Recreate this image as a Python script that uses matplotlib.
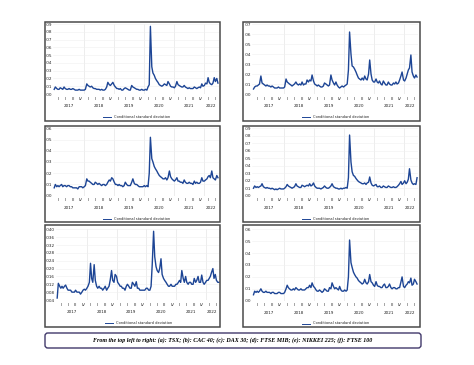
import numpy as np
import pandas as pd
import matplotlib
matplotlib.use('Agg')
import matplotlib.pyplot as plt
from matplotlib.patches import Rectangle, FancyBboxPatch
from matplotlib.lines import Line2D
from matplotlib.ticker import FuncFormatter

W, H = 474, 365

# semi-monthly observation dates (1st and 15th of each month)
dates = pd.date_range('2017-01-01', '2022-06-15', freq='SMS')
x = np.asarray(dates.year + (dates.dayofyear - 1) / 365.25)

tsx = [.006,.009,.007,.006,.006,.008,.007,.006,.009,.007,.006,.006,.007,.006,.006,.007,.006,.005,.005,.005,.006,.005,.005,.005,
       .005,.006,.013,.011,.010,.009,.010,.008,.007,.007,.006,.006,.006,.005,.006,.005,.005,.006,.009,.015,.012,.011,.013,.015,
       .011,.009,.007,.007,.006,.007,.005,.005,.007,.008,.007,.006,.005,.005,.011,.009,.008,.007,.006,.006,.005,.005,.006,.005,
       .005,.006,.005,.009,.012,.087,.035,.027,.024,.020,.017,.015,.012,.011,.010,.011,.013,.012,.011,.016,.013,.010,.009,.009,
       .008,.010,.016,.012,.011,.010,.009,.009,.011,.009,.008,.007,.008,.007,.007,.007,.009,.008,.007,.008,.009,.008,.013,.010,
       .011,.014,.013,.021,.015,.013,.012,.014,.021,.016,.020,.014]

cac40 = [.005,.007,.008,.008,.009,.010,.018,.011,.010,.009,.008,.009,.008,.008,.007,.008,.007,.006,.006,.006,.007,.006,.006,.006,
         .006,.007,.015,.012,.011,.010,.009,.008,.009,.010,.012,.010,.009,.010,.009,.012,.009,.010,.010,.014,.012,.014,.013,.019,
         .013,.010,.009,.008,.009,.008,.007,.007,.008,.011,.010,.009,.008,.009,.019,.014,.011,.009,.012,.009,.007,.006,.007,.008,
         .007,.008,.009,.010,.024,.062,.040,.028,.027,.025,.022,.019,.016,.015,.014,.016,.014,.018,.015,.014,.020,.034,.020,.014,
         .012,.012,.015,.012,.011,.013,.010,.009,.013,.011,.009,.009,.012,.010,.009,.009,.011,.010,.012,.010,.011,.014,.018,.022,
         .014,.013,.016,.020,.024,.026,.039,.022,.018,.016,.019,.017]

dax30 = [.007,.010,.008,.009,.008,.009,.010,.008,.009,.009,.008,.009,.009,.008,.008,.007,.007,.007,.007,.006,.008,.008,.008,.007,
         .008,.009,.015,.013,.013,.012,.011,.010,.010,.012,.011,.010,.011,.010,.009,.010,.010,.009,.010,.012,.014,.013,.016,.015,
         .012,.010,.010,.009,.010,.009,.009,.008,.009,.012,.010,.009,.009,.009,.012,.015,.011,.010,.010,.009,.008,.008,.008,.008,
         .009,.008,.009,.008,.020,.052,.033,.030,.026,.024,.022,.020,.018,.017,.016,.015,.015,.016,.014,.016,.022,.017,.015,.014,
         .013,.014,.016,.013,.013,.012,.012,.011,.014,.012,.011,.011,.012,.011,.011,.010,.013,.011,.012,.011,.011,.012,.016,.013,
         .013,.014,.015,.017,.018,.016,.022,.016,.015,.014,.018,.016]

ftse_mib = [.010,.013,.011,.012,.011,.012,.013,.016,.012,.011,.010,.011,.010,.010,.009,.010,.009,.008,.009,.008,.009,.010,.009,.009,
            .009,.010,.012,.015,.013,.012,.011,.010,.011,.012,.016,.013,.012,.011,.011,.014,.013,.012,.013,.014,.013,.016,.013,.014,
            .017,.013,.011,.010,.010,.010,.009,.010,.011,.013,.011,.010,.010,.011,.013,.016,.012,.011,.010,.010,.009,.009,.010,.009,
            .010,.010,.011,.010,.024,.081,.045,.032,.027,.026,.023,.021,.019,.018,.017,.016,.016,.017,.015,.017,.018,.025,.017,.014,
            .013,.014,.015,.012,.012,.013,.011,.011,.013,.012,.011,.011,.013,.012,.011,.011,.012,.011,.011,.012,.014,.016,.019,.015,
            .017,.020,.016,.018,.022,.036,.021,.017,.015,.016,.015,.024]

nikkei225 = [.005,.0125,.011,.010,.011,.010,.011,.0116,.010,.009,.009,.009,.008,.008,.008,.009,.008,.008,.008,.007,.008,.009,.0095,.009,
             .010,.011,.013,.0227,.015,.013,.022,.014,.011,.010,.011,.010,.010,.009,.010,.011,.009,.010,.011,.014,.019,.014,.013,.017,
             .016,.013,.012,.011,.011,.010,.010,.009,.011,.012,.011,.010,.010,.013,.012,.011,.0133,.010,.010,.009,.009,.009,.009,.009,
             .010,.010,.009,.009,.011,.022,.039,.026,.021,.019,.018,.020,.025,.017,.015,.014,.013,.012,.011,.011,.012,.011,.011,.011,
             .012,.012,.013,.014,.013,.019,.015,.013,.016,.013,.012,.013,.013,.012,.012,.015,.013,.014,.016,.013,.013,.0167,.013,.012,
             .013,.014,.014,.015,.016,.018,.020,.015,.017,.014,.013,.013]

ftse100 = [.005,.008,.007,.008,.007,.008,.010,.008,.007,.007,.008,.007,.007,.007,.006,.007,.007,.006,.006,.006,.007,.007,.006,.006,
           .006,.007,.010,.013,.011,.010,.009,.009,.010,.009,.011,.010,.009,.009,.010,.009,.009,.009,.010,.011,.011,.013,.011,.015,
           .012,.011,.009,.008,.008,.009,.008,.007,.008,.010,.009,.008,.008,.011,.010,.015,.012,.010,.011,.010,.009,.012,.009,.008,
           .008,.009,.008,.009,.020,.051,.032,.028,.024,.022,.020,.019,.017,.016,.015,.014,.015,.018,.015,.014,.016,.022,.016,.015,
           .013,.012,.016,.013,.012,.012,.011,.011,.013,.014,.011,.011,.012,.014,.011,.010,.011,.011,.010,.010,.011,.011,.016,.020,
           .012,.011,.013,.014,.016,.015,.019,.013,.014,.018,.016,.014]

quarter_labels = ['I', 'II', 'III', 'IV']
year_labels = ['2017', '2018', '2019', '2020', '2021', '2022']
legend_label = 'Conditional standard deviation'
caption = ('From the top left to right: (a): TSX; (b): CAC 40; (c): DAX 30; '
           '(d): FTSE MIB; (e): NIKKEI 225; (f): FTSE 100')

line_color = '#1d4595'
frame_color = '#4a4a4a'

# (series, frame box px, axes box px, ylim, yticks, decimals)
panels = [
    (tsx,      (45, 22, 220, 121),  (53, 24, 218.5, 94),     (0, .09),    np.arange(0, .0901, .01), 2),
    (cac40,    (243, 22, 420, 121), (252.3, 24, 417.6, 94),  (0, .07),    np.arange(0, .0701, .01), 2),
    (dax30,    (45, 126, 220, 222), (53, 128.3, 218.5, 195.7), (0, .06),  np.arange(0, .0601, .01), 2),
    (ftse_mib, (243, 126, 420, 222), (252.3, 128.3, 417.6, 195.7), (0, .09), np.arange(0, .0901, .01), 2),
    (nikkei225,(45, 225, 220, 327), (56, 229.3, 219.5, 300), (.004, .040), np.arange(.004, .0401, .004), 3),
    (ftse100,  (243, 225, 420, 327), (252.3, 229.3, 417.6, 300.7), (0, .06), np.arange(0, .0601, .01), 2),
]

fig = plt.figure(figsize=(W / 100, H / 100), dpi=100)
fig.patch.set_facecolor('white')

XMIN, XMAX = 2016.96, 2022.47
qpos, qlab = [], []
for yi in range(2017, 2023):
    for qi in range(4):
        p = yi + qi * 0.25 + 0.125
        if p < XMAX:
            qpos.append(p)
            qlab.append(quarter_labels[qi])

for vals, frame, box, ylim, yt, dec in panels:
    f0, g0, f1, g1 = frame
    fig.add_artist(Rectangle((f0 / W, 1 - g1 / H), (f1 - f0) / W, (g1 - g0) / H,
                             transform=fig.transFigure, fill=False,
                             ec=frame_color, lw=1.1))
    a0, b0, a1, b1 = box
    ax = fig.add_axes([a0 / W, 1 - b1 / H, (a1 - a0) / W, (b1 - b0) / H])
    ax.plot(x, vals, color=line_color, lw=1.0)
    ax.set_xlim(XMIN, XMAX)
    ax.set_ylim(*ylim)
    ax.set_yticks(yt)
    ax.yaxis.set_major_formatter(FuncFormatter(lambda v, p, d=dec: f"{v:.{d}f}".lstrip('0')))
    ax.set_xticks(qpos)
    ax.set_xticklabels(qlab)
    ax.set_xticks([2018, 2019, 2020, 2021, 2022], minor=True)
    ax.tick_params(which='both', length=0, labelsize=3, colors='#222222')
    ax.tick_params(axis='y', pad=0.8)
    ax.tick_params(axis='x', pad=2.0)
    ax.grid(which='minor', axis='x', color='#e6e6e6', lw=0.5)
    ax.grid(which='major', axis='y', color='#f0f0f0', lw=0.4)
    ax.set_axisbelow(True)
    for sp in ax.spines.values():
        sp.set_visible(False)
    for i, yl in enumerate(year_labels):
        start = 2017 + i
        xc = (start + min(start + 1, XMAX - 0.03)) / 2
        ax.annotate(yl, xy=(xc, 0), xycoords=('data', 'axes fraction'),
                    xytext=(0, -12), textcoords='offset pixels',
                    ha='center', va='center', fontsize=3, color='#222222')
    # legend
    cx = (a0 + a1) / 2 + 1
    ly = b1 + 22.8
    fig.add_artist(Line2D([(cx - 34) / W, (cx - 26) / W], [1 - ly / H, 1 - ly / H],
                          transform=fig.transFigure, color=line_color, lw=0.7))
    fig.text((cx - 23) / W, 1 - ly / H, legend_label, ha='left', va='center',
             fontsize=2.6, color='#222222')

# caption box
cap = FancyBboxPatch((45 / W, 1 - 348 / H), 376 / W, 15 / H,
                     boxstyle='round,pad=0,rounding_size=0.006',
                     mutation_aspect=W / H,
                     transform=fig.transFigure, fc='white', ec='#40386a', lw=1.0)
fig.add_artist(cap)
fig.text(233 / W, 1 - 340.5 / H, caption, ha='center', va='center',
         fontsize=4.3, family='Liberation Serif', weight='bold', style='italic')

fig.savefig('out.png', dpi=100)
